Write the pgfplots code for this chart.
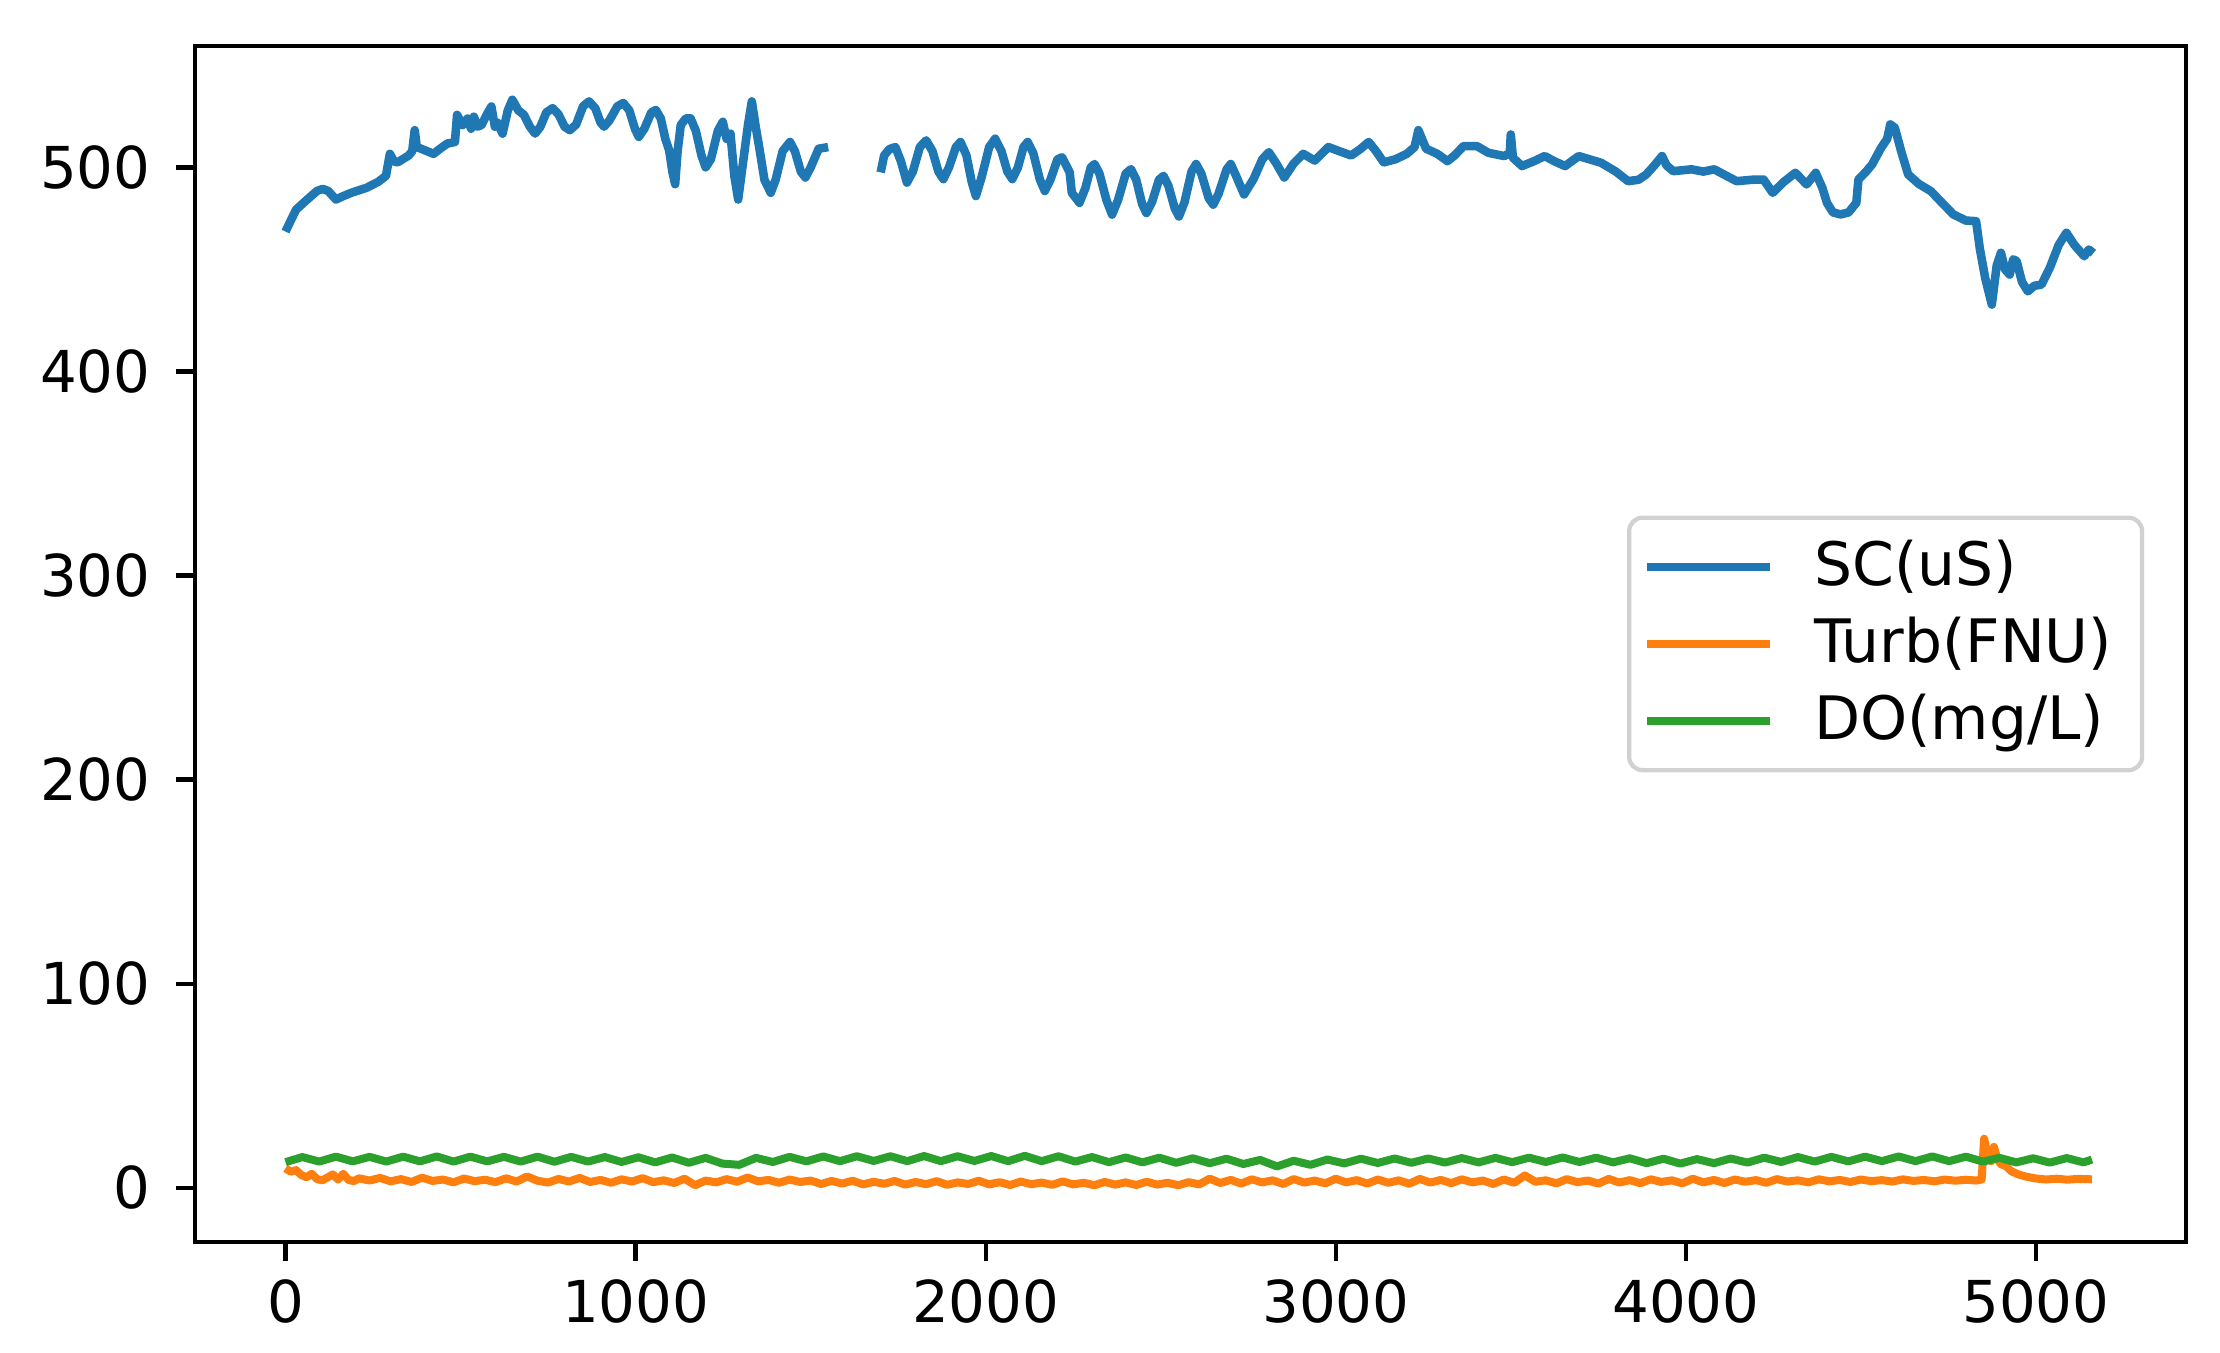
\documentclass[border=0pt]{standalone}
\usepackage{fontspec}
\setmainfont{DejaVu Sans}
\usepackage{pgfplots}
\pgfplotsset{compat=1.18}
\definecolor{tabblue}{HTML}{1F77B4}
\definecolor{taborange}{HTML}{FF7F0E}
\definecolor{tabgreen}{HTML}{2CA02C}
\begin{document}
\begin{tikzpicture}
\begin{axis}[
  scale only axis,
  width=372.3pt, height=223.7pt,
  xmin=-258.5, xmax=5428.5,
  ymin=-26.65, ymax=559.65,
  xtick={0,1000,2000,3000,4000,5000},
  ytick={0,100,200,300,400,500},
  tick pos=left,
  tick align=outside,
  major tick length=3.5pt,
  every tick/.style={black, line width=0.8pt},
  axis line style={line width=0.8pt, black},
  /pgf/number format/assume math mode=true,
  /pgf/number format/1000 sep={},
  ticklabel style={font=\fontsize{10.8}{13}\selectfont, black},
  yticklabel style={xshift=-1.3pt},
  unbounded coords=jump,
  legend cell align=left,
  legend style={at={(rel axis cs:1,0.5)}, anchor=east, xshift=-7.8pt,
    draw=black!18, rounded corners=2.5pt, line width=0.8pt,
    font=\fontsize{11.2}{13.5}\selectfont,
    inner xsep=2.6pt, inner ysep=2pt,
    nodes={inner ysep=2.2pt, inner xsep=3pt},
    /tikz/every odd column/.append style={column sep=4.5pt}},
  legend image code/.code={\draw[#1, line width=1.5pt] (0pt,0pt) -- (23pt,0pt);},
]
\addplot[color=tabblue, line width=1.6pt, line join=round] coordinates {
(0,468.6)(15,474)(30,479.3)(60,484)(90,488.5)(106,489.5)(122,488.5)(144,484.3)(165,486)(188,487.6)(232,490.1)
(265,493)(287,495.9)(298,506.7)(310,503)(320,502.5)(352,505.9)(362,508)(369,518.3)(375,510)(390,509)(423,506.7)
(440,509)(462,511.7)(484,512.5)(490,525.8)(506,520.8)(520,524)(530,519)(538,524.9)(548,520)(560,520.8)(575,526)
(588,529.9)(598,520)(605,522)(620,516.6)(635,528)(648,533.2)(665,528)(681,525.8)(698,520)(713,516.6)(728,520)
(745,527)(763,529.1)(780,526)(797,520)(812,518.3)(830,521)(850,530)(867,532.4)(885,529)(900,522)(910,520)
(925,523)(948,530)(965,531.6)(982,528)(998,519)(1009,515)(1025,519)(1045,527)(1058,528.2)(1072,524)(1085,514)
(1096,508.3)(1105,498)(1113,491.8)(1120,508)(1129,520.8)(1143,524)(1157,524.1)(1172,518)(1188,506)(1200,500.1)
(1215,504)(1235,518)(1249,522.4)(1260,514)(1271,516.6)(1282,496)(1293,484.3)(1305,500)(1321,520.8)(1332,532.4)
(1343,520)(1353,510)(1368,494)(1386,487.6)(1400,494)(1420,508)(1441,512.5)(1455,508)(1472,498)(1485,495.1)
(1500,500)(1523,509.2)(1550,510)
(1600,nan)
(1700,497.6)(1710,505.9)(1725,509)(1742,510)(1758,503)(1775,492.6)(1792,498)(1812,510)(1830,513.3)(1848,508)
(1865,498)(1879,494.3)(1895,500)(1915,510)(1928,512.5)(1945,506)(1960,493)(1972,486)(1988,495)(2010,510)
(2027,514.1)(2045,508)(2062,498)(2076,494.3)(2092,500)(2108,510)(2120,512.5)(2136,507)(2155,494)(2169,488.5)
(2185,494)(2205,504)(2218,505)(2230,501)(2240,497.6)(2246,487.6)(2268,482.7)(2285,490)(2300,500)(2311,501.7)
(2325,497)(2345,484)(2361,476.9)(2378,484)(2400,497)(2415,499.2)(2430,494)(2447,482)(2459,477.7)(2475,483)
(2495,494)(2508,495.9)(2522,491)(2540,480)(2552,476)(2568,483)(2588,498)(2601,501.7)(2616,497)(2637,485)
(2650,481.8)(2665,487)(2688,499)(2700,501.7)(2715,496)(2738,486.8)(2765,494.3)(2790,504)(2809,507.5)(2830,502)
(2853,495.1)(2880,502)(2907,506.7)(2940,503.4)(2979,510)(3010,508)(3044,505.9)(3070,509)(3094,512.5)(3115,508)
(3137,502.5)(3170,504)(3203,506.7)(3225,510)(3236,518.3)(3258,509.2)(3290,506.7)(3319,503.1)(3340,506)
(3365,510.5)(3403,510.5)(3436,507.2)(3481,505.6)(3497,507)(3500,516.2)(3506,504.8)(3532,500.7)(3565,503)
(3597,505.6)(3625,503)(3655,500.7)(3694,505.6)(3725,504)(3758,502.3)(3800,498)(3835,493.3)(3865,494)(3887,496.6)
(3910,501)(3932,505.6)(3945,501)(3964,498.2)(4016,499.1)(4050,498)(4081,499.1)(4115,496)(4145,493.3)(4190,494)
(4222,494.1)(4248,487.6)(4280,493)(4313,497.4)(4345,491.7)(4371,497.4)(4390,490)(4403,482.7)(4420,478)(4442,477)
(4465,478)(4487,482.7)(4493,494.1)(4515,498)(4532,501.5)(4558,509.7)(4575,514)(4584,521.1)(4597,519.5)(4615,508)
(4635,496.6)(4665,492)(4700,488.4)(4730,483)(4764,477)(4800,474)(4829,473.7)(4840,460)(4855,445.9)(4874,432.8)
(4888,452)(4900,458.2)(4912,450)(4925,447.5)(4935,455)(4945,454.1)(4960,444)(4977,439.3)(4995,442)(5016,442.6)
(5040,451)(5065,462)(5087,468)(5110,462)(5138,456.5)(5151,459.8)(5164,458)
};
\addlegendentry{SC(uS)}
\addplot[color=taborange, line width=1.5pt, line join=round] coordinates {
(0,9.5)(15,7.8)(30,8.6)(45,6.2)(60,5.1)(75,6.8)(90,4.2)(105,3.6)(120,5.0)(135,6.5)(150,4.0)(165,6.8)(180,3.8)(195,3.2)(210,4.6)
(240,3.5)(270,4.8)(300,3.1)(330,4.2)(360,2.8)(390,4.9)(420,3.3)(450,4.0)(480,2.6)(510,4.5)(540,3.2)(570,3.9)
(600,2.7)(630,4.6)(660,3.0)(690,5.5)(720,3.4)(750,2.5)(780,4.3)(810,3.0)(840,4.8)(870,2.8)(900,3.8)(930,2.4)
(960,4.1)(990,3.0)(1020,4.7)(1050,2.7)(1080,3.6)(1110,2.3)(1140,4.4)(1170,1.2)(1200,3.5)(1230,2.6)(1260,4.2)
(1290,2.9)(1320,5.0)(1350,3.1)(1380,3.8)(1410,2.4)(1440,4.0)(1470,2.8)(1500,3.5)(1530,1.8)(1560,3.3)(1590,2.0)
(1620,3.4)(1650,1.6)(1680,2.9)(1710,1.9)(1740,3.3)(1770,1.5)(1800,2.8)(1830,1.7)(1860,3.2)(1890,1.4)(1920,2.6)
(1950,1.8)(1980,3.4)(2010,1.6)(2040,2.7)(2070,1.3)(2100,3.0)(2130,1.7)(2160,2.5)(2190,1.4)(2220,3.1)(2250,1.6)
(2280,2.4)(2310,1.2)(2340,2.8)(2370,1.5)(2400,2.6)(2430,1.3)(2460,2.9)(2490,1.5)(2520,2.4)(2550,1.2)(2580,2.7)
(2610,1.6)(2640,4.4)(2670,2.3)(2700,3.8)(2730,2.0)(2760,4.1)(2790,2.6)(2820,3.6)(2850,1.8)(2880,4.2)(2910,2.5)
(2940,3.5)(2970,2.1)(3000,4.4)(3030,2.6)(3060,3.7)(3090,2.0)(3120,4.0)(3150,2.4)(3180,3.6)(3210,1.9)(3240,4.3)
(3270,2.5)(3300,3.8)(3330,2.2)(3360,4.1)(3390,2.6)(3420,3.5)(3450,1.8)(3480,4.0)(3510,2.4)(3540,6.0)(3570,2.9)
(3600,3.6)(3630,2.1)(3660,4.2)(3690,2.7)(3720,3.5)(3750,2.0)(3780,4.3)(3810,2.5)(3840,3.7)(3870,2.2)(3900,4.1)
(3930,2.8)(3960,3.6)(3990,2.1)(4020,4.4)(4050,2.6)(4080,3.8)(4110,2.3)(4140,4.0)(4170,2.9)(4200,3.7)(4230,2.4)
(4260,4.2)(4290,3.0)(4320,3.6)(4350,2.6)(4380,4.1)(4410,3.1)(4440,3.8)(4470,2.8)(4500,4.0)(4530,3.2)(4560,3.7)
(4590,3.0)(4620,4.1)(4650,3.3)(4680,3.8)(4710,3.1)(4740,4.0)(4770,3.4)(4800,3.9)(4830,3.5)(4845,4.0)
(4852,24)(4862,16)(4872,13)(4880,20)(4890,14)(4900,11.5)(4915,10.5)(4930,8.0)(4950,6.5)(4970,5.5)(5000,4.5)
(5030,4.0)(5060,4.4)(5090,3.9)(5120,4.3)(5160,4.1)
};
\addlegendentry{Turb(FNU)}
\addplot[color=tabgreen, line width=1.5pt, line join=round] coordinates {
(0,12.5)(48,15.0)(96,12.8)(144,15.2)(192,12.9)(240,15.1)(288,12.8)(336,15.2)(384,12.9)(432,15.3)(480,12.8)
(528,15.2)(576,12.9)(624,15.1)(672,12.8)(720,15.2)(768,12.7)(816,15.1)(864,12.8)(912,15.0)(960,12.6)(1008,14.9)
(1056,12.4)(1104,14.8)(1152,12.2)(1200,14.6)(1248,11.8)(1296,11.2)(1344,14.6)(1392,12.6)(1440,15.1)(1488,12.9)
(1536,15.3)(1584,13.0)(1632,15.4)(1680,13.1)(1728,15.4)(1776,13.0)(1824,15.5)(1872,13.0)(1920,15.4)(1968,13.1)
(2016,15.5)(2064,13.0)(2112,15.6)(2160,13.0)(2208,15.4)(2256,12.8)(2304,15.0)(2352,12.5)(2400,14.8)(2448,12.4)
(2496,14.7)(2544,12.2)(2592,14.4)(2640,12.0)(2688,14.2)(2736,11.6)(2784,13.6)(2832,10.4)(2880,13.2)(2928,11.2)
(2976,13.8)(3024,11.9)(3072,14.2)(3120,12.1)(3168,14.3)(3216,12.2)(3264,14.3)(3312,12.3)(3360,14.5)(3408,12.4)
(3456,14.6)(3504,12.5)(3552,14.7)(3600,12.6)(3648,14.8)(3696,12.6)(3744,14.7)(3792,12.4)(3840,14.4)(3888,12.0)
(3936,14.2)(3984,11.8)(4032,14.0)(4080,12.0)(4128,14.3)(4176,12.3)(4224,14.7)(4272,12.6)(4320,15.0)(4368,12.8)
(4416,15.1)(4464,12.9)(4512,15.2)(4560,13.0)(4608,15.3)(4656,13.0)(4704,15.3)(4752,13.0)(4800,15.2)(4848,12.8)
(4896,14.6)(4944,12.4)(4992,14.4)(5040,12.3)(5088,14.5)(5136,12.4)(5160,13.8)
};
\addlegendentry{DO(mg/L)}
\end{axis}
\pgfresetboundingbox
\path[use as bounding box] (-36.47pt,-20.57pt) rectangle (378.67pt,232.26pt);
\end{tikzpicture}
\end{document}
